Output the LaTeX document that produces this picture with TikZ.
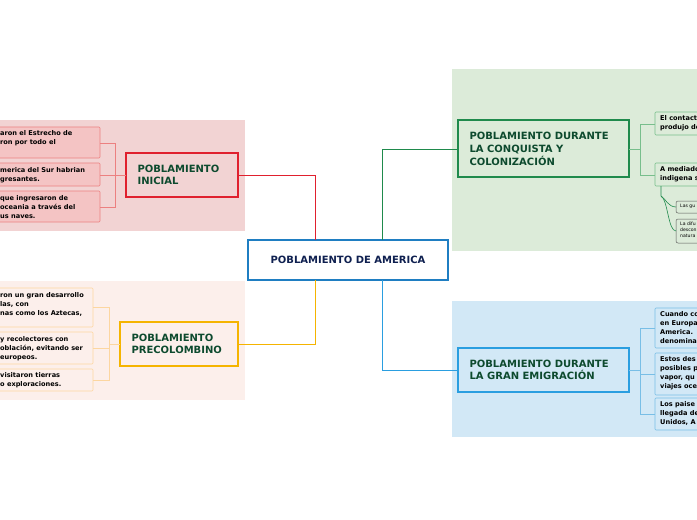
\documentclass[tikz,border=0pt]{standalone}
\usepackage{fontspec}
\setmainfont{DejaVu Sans}
\begin{document}
\begin{tikzpicture}[x=1pt,y=-1pt,
 main/.style={draw,line width=1.4pt,fill=white,align=left,font=\bfseries\fontsize{10}{12}\selectfont,inner sep=0pt},
 sub/.style={draw,line width=0.6pt,rounded corners=1pt,inner sep=0pt},
 st/.style={anchor=north west,align=left,font=\bfseries\fontsize{6.6}{9.2}\selectfont,inner sep=0pt},
 sst/.style={anchor=north west,align=left,font=\fontsize{4.6}{6}\selectfont,inner sep=0pt}]
\useasboundingbox (0,0) rectangle (697,520);
\clip (0,0) rectangle (697,520);
\definecolor{pinkbg}{HTML}{F2D3D3}\definecolor{peachbg}{HTML}{FCEFEB}
\definecolor{greenbg}{HTML}{DCEBD9}\definecolor{bluebg}{HTML}{D2E8F6}
\definecolor{dg}{HTML}{0D4A2E}\definecolor{navy}{HTML}{0F2050}
\definecolor{cred}{HTML}{E0202E}\definecolor{cyel}{HTML}{F5B400}
\definecolor{cgrn}{HTML}{1F8A4C}\definecolor{cblu}{HTML}{2A9EE0}\definecolor{ccen}{HTML}{1F7EC2}
\fill[pinkbg] (0,120) rectangle (245,231);
\fill[peachbg] (0,281) rectangle (245,400);
\fill[greenbg] (452,69) rectangle (697,251);
\fill[bluebg] (452,301) rectangle (697,437);
% center
\draw[main,draw=ccen] (248,240) rectangle (448,280);
\node[font=\bfseries\fontsize{10}{12}\selectfont,text=navy] (c) at (348,260) {POBLAMIENTO DE AMERICA};
% level 1
\draw[main,draw=cred,fill=pinkbg] (126,153) rectangle (238,197);
\node[anchor=west,align=left,text=dg,font=\bfseries\fontsize{10}{12.5}\selectfont] (ini) at (134,175) {POBLAMIENTO\\INICIAL};
\draw[main,draw=cyel,fill=peachbg] (120,322) rectangle (238,366);
\node[anchor=west,align=left,text=dg,font=\bfseries\fontsize{10}{12.5}\selectfont] (pre) at (128,344) {POBLAMIENTO\\PRECOLOMBINO};
\draw[main,draw=cgrn,fill=greenbg] (458,120) rectangle (629,177);
\node[anchor=west,align=left,text=dg,font=\bfseries\fontsize{10}{13}\selectfont] (con) at (466,149) {POBLAMIENTO DURANTE\\LA CONQUISTA Y\\COLONIZACIÓN};
\draw[main,draw=cblu,fill=bluebg] (458,348) rectangle (629,392);
\node[anchor=west,align=left,text=dg,font=\bfseries\fontsize{10}{12.5}\selectfont] (emi) at (466,370) {POBLAMIENTO DURANTE\\LA GRAN EMIGRACIÓN};
% main connectors
\draw[cred,line width=0.8pt] (315,240) -- (315,175) -- (238,175);
\draw[cyel,line width=0.8pt] (315,280) -- (315,344) -- (238,344);
\draw[cgrn,line width=0.8pt] (382,240) -- (382,149) -- (458,149);
\draw[cblu,line width=0.8pt] (382,280) -- (382,370) -- (458,370);
% inicial subs
\begin{scope}[draw={rgb,255:red,236;green,128;blue,128}]
\draw[sub,fill={rgb,255:red,244;green,196;blue,196}] (-5,127) rectangle (100,158);
\draw[sub,fill={rgb,255:red,244;green,196;blue,196}] (-5,163) rectangle (100,186);
\draw[sub,fill={rgb,255:red,244;green,196;blue,196}] (-5,191) rectangle (100,222);
\draw[line width=0.6pt] (126,175) -- (115,175) (100,143) -- (115,143) -- (115,207) -- (100,207) (100,175) -- (115,175);
\end{scope}
\node[st] (i1) at (0,130) {aron el Estrecho de\\ron por todo el};
\node[st] (i2) at (0,167) {merica del  Sur habrian\\gresantes.};
\node[st] (i3) at (0,195) {que ingresaron de\\oceania a través del\\us naves.};
% precolombino subs
\begin{scope}[draw={rgb,255:red,252;green,214;blue,160}]
\draw[sub] (-5,288) rectangle (93,327);
\draw[sub] (-5,332) rectangle (93,364);
\draw[sub] (-5,369) rectangle (93,391);
\draw[line width=0.6pt] (120,344) -- (109,344) (93,307) -- (109,307) -- (109,380) -- (93,380) (93,348) -- (109,348);
\end{scope}
\node[st] (p1) at (0,292) {ron un gran desarrollo\\las, con\\nas como los Aztecas,};
\node[st] (p2) at (0,336) {y recolectores con\\oblación, evitando ser\\europeos.};
\node[st] (p3) at (0,372) {visitaron tierras\\o exploraciones.};
% conquista subs
\begin{scope}[draw={rgb,255:red,120;green,190;blue,140}]
\draw[sub] (655,112) rectangle (710,135);
\draw[sub] (655,163) rectangle (710,186);
\draw[line width=0.6pt] (629,149) -- (640,149) (655,124) -- (640,124) -- (640,175) -- (655,175);
\end{scope}
\node[st] (k1) at (660,115) {El contacto con\\produjo de};
\node[st] (k2) at (660,166) {A mediados\\indigena s};
\draw[rounded corners=2pt,line width=0.5pt,draw=gray!70!black,fill=greenbg] (676,201) rectangle (710,213);
\draw[rounded corners=2pt,line width=0.5pt,draw=gray!70!black,fill=greenbg] (676,219) rectangle (710,243);
\node[sst] (s1) at (680,204) {Las gu};
\node[sst] (s2) at (680,222) {La difu\\descon\\natura};
\draw[cgrn,line width=0.6pt] (661,186) -- (661,196) .. controls (665,198) and (668,207) .. (676,207);
\draw[cgrn,line width=0.6pt] (661,196) .. controls (668,200) and (668,231) .. (676,231);
% emigracion subs
\begin{scope}[draw={rgb,255:red,120;green,190;blue,230}]
\draw[sub] (655,308) rectangle (710,348);
\draw[sub] (655,353) rectangle (710,395);
\draw[sub] (655,398) rectangle (710,430);
\draw[line width=0.6pt] (629,370) -- (640,370) (655,328) -- (640,328) -- (640,414) -- (655,414) (655,374) -- (640,374);
\end{scope}
\node[st] (e1) at (660,311) {Cuando co\\en Europa\\America.\\denomina};
\node[st] (e2) at (660,356) {Estos des\\posibles p\\vapor, qu\\viajes oce};
\node[st] (e3) at (660,401) {Los paise\\llegada de\\Unidos, A};
\end{tikzpicture}
\end{document}
